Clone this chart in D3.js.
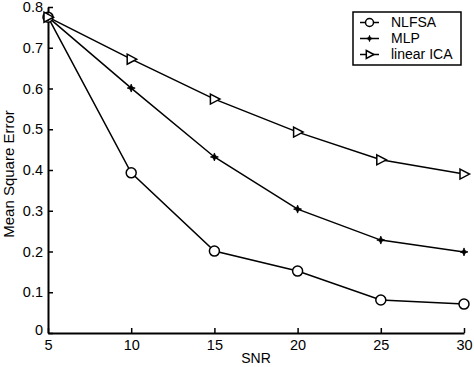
<!DOCTYPE html>
<html>
<head>
<meta charset="utf-8">
<script src="https://cdn.jsdelivr.net/npm/d3@7"></script>
<style>
body { margin: 0; background: #fff; }
text { font-family: "Liberation Sans", Arial, sans-serif; fill: #000; }
</style>
</head>
<body>
<script>
// data
var snr = [5, 10, 15, 20, 25, 30]
var nlfsa = [0.775, 0.393, 0.201, 0.152, 0.081, 0.071]
var mlp = [0.775, 0.601, 0.432, 0.304, 0.228, 0.199]
var ica = [0.775, 0.672, 0.574, 0.493, 0.425, 0.390]
var xTicks = [5, 10, 15, 20, 25, 30]
var yTicks = [0, 0.1, 0.2, 0.3, 0.4, 0.5, 0.6, 0.7, 0.8]
var seriesNames = ['NLFSA', 'MLP', 'linear ICA']

var W = 474, H = 367
var svg = d3.select('body').append('svg')
	.attr('width', W)
	.attr('height', H)

var x = d3.scaleLinear().domain([5, 30]).range([48, 464])
var y = d3.scaleLinear().domain([0, 0.8]).range([333, 7])

// axes, ticks point inward
var xAxis = svg.append('g')
	.attr('transform', 'translate(0,' + y(0) + ')')
	.call(d3.axisBottom(x).tickValues(xTicks).tickSizeInner(-5).tickSizeOuter(0).tickPadding(12).tickFormat(d3.format('d')))
var yAxis = svg.append('g')
	.attr('transform', 'translate(' + x(5) + ',0)')
	.call(d3.axisLeft(y).tickValues(yTicks).tickSizeInner(-5).tickSizeOuter(0).tickPadding(5).tickFormat(d => d === 0 ? '0' : d3.format('.1f')(d)))

svg.selectAll('.domain').attr('stroke', '#000').attr('stroke-width', 2)
svg.selectAll('.tick line').attr('stroke', '#000').attr('stroke-width', 1.5)
svg.selectAll('.tick text').style('font-size', '14.5px').attr('fill', '#000')
xAxis.selectAll('.tick text').attr('dy', '0.35em')
yAxis.selectAll('.tick text').filter(d => d === 0).attr('dy', '0.1em')

svg.append('text')
	.attr('x', (x(5) + x(30)) / 2)
	.attr('y', 363)
	.attr('text-anchor', 'middle')
	.style('font-size', '14px')
	.text('SNR')

svg.append('text')
	.attr('transform', 'translate(14,174) rotate(-90)')
	.attr('text-anchor', 'middle')
	.style('font-size', '15px')
	.text('Mean Square Error')

var series = [nlfsa, mlp, ica]
var line = d3.line().x((d, i) => x(snr[i])).y(d => y(d))

series.forEach(s => {
	svg.append('path')
		.attr('d', line(s))
		.attr('fill', 'none')
		.attr('stroke', '#000')
		.attr('stroke-width', 1.5)
})

function marker(g, k, sc) {
	if (k === 0) {
		g.append('circle').attr('r', 5 * sc).attr('fill', '#fff').attr('stroke', '#000').attr('stroke-width', 1.5)
	} else if (k === 1) {
		g.append('path').attr('d', 'M0,-4L1.5,0L0,4L-1.5,0Z M-4,0L0,-1.5L4,0L0,1.5Z').attr('transform', 'scale(' + sc + ')').attr('fill', '#000').attr('stroke', '#000').attr('stroke-width', 0.8)
	} else {
		g.append('path').attr('d', 'M-4,-5L5.5,0L-4,5Z').attr('transform', 'scale(' + sc + ')').attr('fill', '#fff').attr('stroke', '#000').attr('stroke-width', 1.5 / sc)
	}
}

series.forEach((s, k) => {
	s.forEach((v, i) => {
		var g = svg.append('g').attr('transform', 'translate(' + x(snr[i]) + ',' + y(v) + ')')
		marker(g, k, 1)
	})
})

// legend
var lg = svg.append('g').attr('transform', 'translate(353,12)')
lg.append('rect').attr('width', 108).attr('height', 53).attr('fill', '#fff').attr('stroke', '#000').attr('stroke-width', 1.5)
seriesNames.forEach((n, k) => {
	var yy = 10.5 + k * 16
	lg.append('line').attr('x1', 7).attr('x2', 26).attr('y1', yy).attr('y2', yy).attr('stroke', '#000').attr('stroke-width', 1.5)
	marker(lg.append('g').attr('transform', 'translate(16.5,' + yy + ')'), k, 0.8)
	lg.append('text').attr('x', 38).attr('y', yy).attr('dy', '0.35em').style('font-size', '14px').text(n)
})
</script>
</body>
</html>
